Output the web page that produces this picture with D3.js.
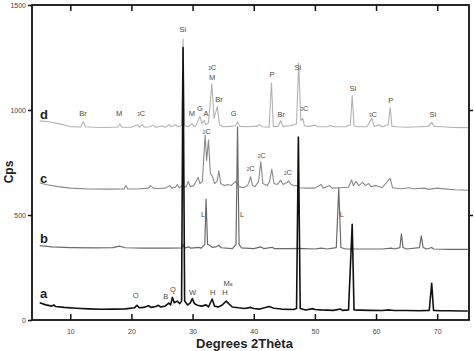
<!DOCTYPE html>
<html>
<head>
<meta charset="utf-8">
<script src="https://cdn.jsdelivr.net/npm/d3@7"></script>
<style>
  body { margin: 0; background: #fff; }
  svg { display: block; font-family: "Liberation Sans", Arial, sans-serif; }
</style>
</head>
<body>
<svg id="chart" width="474" height="351"></svg>
<script>
// XRD patterns, [2theta, cps]
const traceA = [
  [5, 82], [6, 72], [7, 66], [7.3, 72], [7.6, 64], [9, 60], [11, 56], [13, 53], [15, 51], [17, 52],
  [19, 53], [20.5, 58], [20.9, 70], [21.3, 58], [22, 60], [22.8, 68], [23.2, 60], [24, 64], [24.4, 70],
  [24.8, 62], [25.5, 66], [26.1, 80], [26.4, 72], [26.7, 108], [27, 82], [27.5, 90], [27.9, 78],
  [28.2, 90], [28.44, 1297], [28.7, 90], [29.2, 72], [29.6, 80], [29.95, 102], [30.3, 78], [30.8, 70],
  [31.5, 66], [32.2, 72], [32.6, 62], [33.2, 100], [33.6, 66], [34.2, 62], [34.8, 70], [35.5, 90],
  [35.9, 78], [36.5, 62], [37.5, 58], [38.5, 55], [39.5, 60], [40, 55], [41, 52], [42.5, 64], [43.3, 56],
  [44.5, 52], [46.5, 50], [47.0, 55], [47.3, 871], [47.6, 55], [48.5, 48], [49.7, 54], [50, 50], [51, 48],
  [53, 46], [54.2, 52], [54.5, 46], [55.5, 48], [56.1, 456], [56.4, 48], [57.5, 47], [59, 46], [61, 45],
  [62.2, 48], [63, 45], [65, 45], [67, 44], [68.7, 46], [69.1, 175], [69.4, 46], [70.5, 44], [72, 44],
  [74, 43], [75, 43]
];

const traceB = [
  [5, 354], [7, 348], [10, 345], [14, 343], [17, 345], [18, 352], [19, 344], [22, 342], [26, 342],
  [28.2, 343], [28.44, 360], [28.7, 342], [29.4, 348], [29.7, 342], [31, 346], [31.4, 342], [32.0, 360],
  [32.2, 576], [32.45, 360], [32.8, 356], [33.2, 346], [33.8, 348], [34.3, 356], [34.7, 344], [36.5, 340],
  [37.1, 360], [37.35, 919], [37.6, 360], [38, 343], [40, 340], [41.2, 348], [41.6, 340], [43, 346],
  [43.4, 340], [46, 340], [47.3, 341], [50, 338], [51, 342], [52, 338], [53.5, 345], [53.9, 627],
  [54.25, 345], [55, 338], [58, 338], [61, 338], [62.5, 342], [63, 338], [63.9, 345], [64.15, 410],
  [64.4, 345], [65, 338], [67.1, 345], [67.4, 401], [67.7, 345], [68.3, 338], [69.1, 345], [69.4, 338],
  [72, 336], [75, 336]
];

const traceC = [
  [5, 652], [6, 645], [8, 635], [10, 628], [13, 624], [16, 623], [18.8, 624], [19.1, 640], [19.4, 624],
  [21, 624], [22.8, 628], [23.1, 640], [23.6, 628], [24.5, 626], [25.5, 628], [26.3, 640], [26.6, 628],
  [27.2, 632], [27.5, 645], [27.8, 630], [28.44, 640], [28.9, 632], [29.3, 660], [29.6, 635], [30.2, 640],
  [30.9, 680], [31.2, 650], [31.6, 660], [32.05, 881], [32.3, 760], [32.6, 857], [32.9, 700], [33.3, 680],
  [33.6, 650], [34.0, 660], [34.3, 710], [34.6, 650], [35.2, 640], [35.8, 645], [36.3, 640], [37.0, 660],
  [37.6, 635], [38.3, 630], [39, 640], [39.5, 682], [39.8, 640], [40.2, 635], [40.8, 660], [41.15, 754],
  [41.5, 650], [42.2, 640], [42.6, 660], [42.95, 719], [43.3, 650], [43.8, 645], [44.4, 665], [44.8, 645],
  [45.4, 655], [45.7, 662], [46.1, 645], [46.6, 640], [47, 640], [47.5, 630], [48.5, 628], [50, 628],
  [51, 645], [51.4, 628], [52.4, 640], [52.8, 628], [54, 630], [55.5, 632], [56.0, 667], [56.3, 640],
  [56.7, 660], [57.2, 640], [57.8, 655], [58.3, 640], [58.8, 650], [59.2, 635], [60, 640], [61, 630],
  [62.3, 675], [62.7, 630], [64, 625], [65.5, 630], [66, 625], [68, 628], [68.5, 622], [70, 628],
  [72, 622], [73, 620], [75, 618]
];

const traceD = [
  [5, 948], [6.5, 944], [8, 935], [10, 921], [11.7, 919], [12.1, 944], [12.5, 920], [14, 918], [16, 917],
  [17.8, 919], [18.1, 933], [18.4, 918], [20, 918], [21.0, 930], [21.3, 918], [21.8, 930], [22.1, 918],
  [23, 920], [23.5, 928], [24, 918], [25, 924], [25.5, 918], [26.2, 930], [26.5, 920], [27.3, 930],
  [27.6, 920], [28.2, 925], [28.44, 1338], [28.7, 925], [29.3, 920], [29.9, 935], [30.2, 920], [30.6, 928],
  [31.2, 971], [31.5, 935], [31.9, 950], [32.2, 930], [32.6, 940], [33.15, 1124], [33.5, 960], [34.05, 1016],
  [34.4, 930], [35, 920], [36, 922], [37.0, 925], [37.35, 943], [37.7, 922], [39, 920], [40.5, 923],
  [41, 930], [41.4, 920], [42.5, 918], [42.9, 1130], [43.2, 920], [44, 922], [44.4, 949], [44.8, 922],
  [46, 925], [47.0, 935], [47.35, 1224], [47.7, 950], [48.0, 960], [48.3, 925], [49, 922], [50, 928],
  [50.5, 920], [52, 920], [52.6, 926], [53, 920], [55, 920], [55.8, 930], [56.1, 1068], [56.4, 925],
  [57, 920], [58.5, 920], [59.3, 960], [59.7, 922], [60.5, 930], [61, 920], [62.0, 930], [62.3, 1013],
  [62.6, 922], [63.5, 920], [65, 918], [67, 920], [68.6, 922], [69.1, 941], [69.5, 922], [71, 920],
  [72.5, 917], [75, 916]
];

// phase labels: [text, 2theta, cps]
const labelsD = [
  ['Br', 12.1, 986], ['M', 18.0, 986], ['3C', 21.6, 986], ['Si', 28.4, 1386], ['M', 29.9, 986],
  ['G', 31.2, 1010], ['A', 32.2, 986], ['3C', 33.2, 1205], ['M', 33.2, 1157], ['Br', 34.3, 1052],
  ['G', 36.7, 986], ['P', 43.0, 1171], ['Br', 44.5, 981], ['Si', 47.2, 1205], ['3C', 48.3, 1010],
  ['Si', 56.2, 1105], ['3C', 59.5, 981], ['P', 62.4, 1048], ['Si', 69.3, 981]
];
const labelsC = [['2C', 32.3, 900], ['2C', 39.5, 724], ['2C', 41.3, 786], ['2C', 45.6, 701]];
const labelsB = [['L', 31.7, 505], ['L', 38.1, 505], ['L', 54.4, 505]];
const labelsA = [
  ['O', 20.7, 119], ['B', 25.6, 114], ['Q', 26.8, 148], ['W', 30.0, 133], ['H', 33.3, 133],
  ['H', 35.3, 133], ['Ma', 35.8, 176]
];

// sample letters: [name, cps at its centre]
const sampleNames = [['d', 980], ['c', 675], ['b', 390], ['a', 125]];

const xTicks = [10, 20, 30, 40, 50, 60, 70];
const yTicks = [0, 500, 1000, 1500];

const svg = d3.select('#chart');
const plot = { left: 32, right: 469, top: 5, bottom: 320 };

const x = d3.scaleLinear().domain([3.74, 75.2]).range([plot.left, plot.right]);
const y = d3.scaleLinear().domain([0, 1500]).range([plot.bottom, plot.top]);

const line = d3.line().x((d) => x(d[0])).y((d) => y(d[1]));

// traces, lightest first so the black one sits on top
const series = [
  { data: traceD, color: '#b2b2b2', width: 1.1 },
  { data: traceC, color: '#8a8a8a', width: 1.1 },
  { data: traceB, color: '#6a6a6a', width: 1.2 },
  { data: traceA, color: '#111', width: 1.6 },
];

svg.append('g')
  .selectAll('path')
  .data(series)
  .join('path')
  .attr('fill', 'none')
  .attr('stroke', (d) => d.color)
  .attr('stroke-width', (d) => d.width)
  .attr('stroke-linejoin', 'round')
  .attr('d', (d) => line(d.data));

// frame
svg.append('rect')
  .attr('x', plot.left)
  .attr('y', plot.top)
  .attr('width', plot.right - plot.left)
  .attr('height', plot.bottom - plot.top)
  .attr('fill', 'none')
  .attr('stroke', '#111')
  .attr('stroke-width', 1.8);

// axes
const axBottom = svg.append('g')
  .attr('transform', `translate(0,${plot.bottom})`)
  .call(d3.axisBottom(x).tickValues(xTicks).tickSizeInner(-6).tickSizeOuter(0).tickPadding(9));
const axTop = svg.append('g')
  .attr('transform', `translate(0,${plot.top})`)
  .call(d3.axisTop(x).tickValues(xTicks).tickSizeInner(-6).tickSizeOuter(0).tickFormat(''));
const axLeft = svg.append('g')
  .attr('transform', `translate(${plot.left},0)`)
  .call(d3.axisLeft(y).tickValues(yTicks).tickFormat(d3.format('d'))
    .tickSizeInner(4).tickSizeOuter(0).tickPadding(2));
const axRight = svg.append('g')
  .attr('transform', `translate(${plot.right},0)`)
  .call(d3.axisRight(y).tickValues([500, 1000]).tickSizeInner(4).tickSizeOuter(0).tickFormat(''));

[axBottom, axTop, axLeft, axRight].forEach((g) => {
  g.select('.domain').remove();
  g.selectAll('line').attr('stroke', '#111').attr('stroke-width', 1.5);
  g.selectAll('text').attr('fill', '#444').style('font-size', '7px');
});

// axis titles
svg.append('text')
  .attr('x', (plot.left + plot.right) / 2 - 6)
  .attr('y', 348)
  .attr('text-anchor', 'middle')
  .attr('font-weight', 'bold')
  .attr('font-size', 13)
  .attr('fill', '#222')
  .text('Degrees 2Thèta');

svg.append('text')
  .attr('transform', 'translate(13,172) rotate(-90)')
  .attr('text-anchor', 'middle')
  .attr('font-weight', 'bold')
  .attr('font-size', 12)
  .attr('fill', '#222')
  .text('Cps');

// peak labels
function drawLabels(list) {
  const t = svg.append('g')
    .selectAll('text')
    .data(list)
    .join('text')
    .attr('x', (d) => x(d[1]))
    .attr('y', (d) => y(d[2]))
    .attr('dy', '0.35em')
    .attr('text-anchor', 'middle')
    .attr('font-size', 7.5)
    .attr('fill', '#4a4a4a');

  t.each(function (d) {
    const el = d3.select(this);
    const s = d[0];
    if (/^\dC$/.test(s)) {
      el.append('tspan').attr('font-size', 4.5).text(s[0]);
      el.append('tspan').text('C');
    } else if (s === 'Ma') {
      el.append('tspan').text('M');
      el.append('tspan').attr('font-size', 5).text('a');
    } else {
      el.text(s);
    }
  });
}
[labelsD, labelsC, labelsB, labelsA].forEach(drawLabels);

// sample letters
svg.append('g')
  .selectAll('text')
  .data(sampleNames)
  .join('text')
  .attr('x', 40)
  .attr('y', (d) => y(d[1]))
  .attr('dy', '0.35em')
  .attr('font-weight', 'bold')
  .attr('font-size', 13)
  .attr('fill', '#222')
  .text((d) => d[0]);
</script>
</body>
</html>
